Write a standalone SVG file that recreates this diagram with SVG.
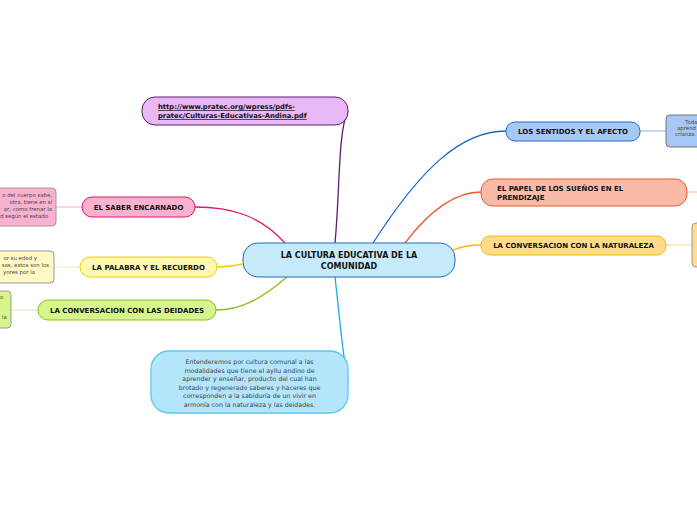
<svg xmlns="http://www.w3.org/2000/svg" width="697" height="520" viewBox="0 0 697 520">
<style>
text{font-family:"DejaVu Sans",Verdana,sans-serif;}
.t{font-size:7px;font-weight:bold;fill:#111;}
.s{font-size:5.4px;fill:#444;}
.d{font-size:6.3px;fill:#444;}
.c{fill:none;stroke-width:1.3;}
.th{fill:none;stroke-width:1;}
</style>
<rect width="697" height="520" fill="#fff"/>
<g id="connectors">
<path class="c" stroke="#5c1e6e" d="M335,243 C340,190 338,130 348,111"/>
<path class="c" stroke="#1d67c9" d="M373,243 C420,170 460,131 506,131"/>
<path class="c" stroke="#ec5a2c" d="M405,243 C430,210 455,192 481,192"/>
<path class="c" stroke="#f5b800" d="M453,250 C465,246 470,245 481,245"/>
<path class="c" stroke="#e2176b" d="M285,243 C260,215 230,207 195,207"/>
<path class="c" stroke="#e8d300" d="M243,264 C230,267 225,267 217,267"/>
<path class="c" stroke="#8dbf1c" d="M287,277 C260,300 240,310 216,310"/>
<path class="c" stroke="#1ea7e8" d="M335,277 C340,320 342,350 348,383"/>
<path class="th" stroke="#f7a6c8" d="M82,207 H56"/>
<path class="th" stroke="#f5ecb0" d="M80,267 H54"/>
<path class="th" stroke="#dbe9b8" d="M38,310 H11"/>
<path class="th" stroke="#8fb5ea" d="M640,131 H666"/>
<path class="th" stroke="#f5b8a5" d="M687,192 H697"/>
<path class="th" stroke="#ffd98a" d="M666,245 H692"/>
</g>
<g id="center"><rect x="243" y="243" width="212" height="34" rx="15" fill="#c7eafa" stroke="#1f6fbf"/>
<text class="t" x="349" y="258" text-anchor="middle" style="font-size:8px">LA CULTURA EDUCATIVA DE LA</text>
<text class="t" x="349" y="269" text-anchor="middle" style="font-size:8px">COMUNIDAD</text></g>
<g id="link"><rect x="142" y="97" width="206" height="28" rx="13" fill="#e9b8f7" stroke="#5c1e6e"/>
<text class="t" x="158" y="109" text-decoration="underline" style="font-size:6.8px">http://www.pratec.org/wpress/pdfs-</text>
<text class="t" x="158" y="118" text-decoration="underline" style="font-size:6.8px">pratec/Culturas-Educativas-Andina.pdf</text></g>
<g id="saber"><rect x="82" y="197" width="113" height="20" rx="10" fill="#f9b1d0" stroke="#e2176b"/>
<text class="t" x="138.5" y="209.5" text-anchor="middle">EL SABER ENCARNADO</text></g>
<g id="saber-note"><rect x="-10" y="188" width="66" height="38" rx="4" fill="#f9b1d0" stroke="#999"/>
<text class="s" x="52" y="197" text-anchor="end">o del cuerpo sabe,</text>
<text class="s" x="52" y="204" text-anchor="end">otra, tiene en sí</text>
<text class="s" x="52" y="211" text-anchor="end">ar, como frenar la</text>
<text class="s" x="48" y="218" text-anchor="end">d según el estado</text></g>
<g id="palabra"><rect x="80" y="257" width="137" height="20" rx="10" fill="#fff8b3" stroke="#e8d300"/>
<text class="t" x="148.5" y="269.5" text-anchor="middle">LA PALABRA Y EL RECUERDO</text></g>
<g id="palabra-note"><rect x="-10" y="251" width="64" height="32" rx="4" fill="#fff8c4" stroke="#999"/>
<text class="s" x="37" y="260" text-anchor="end">or su edad y</text>
<text class="s" x="49" y="267" text-anchor="end">sas, estos son los</text>
<text class="s" x="35" y="274" text-anchor="end">yores por la</text></g>
<g id="deidades"><rect x="38" y="300" width="178" height="20" rx="10" fill="#d6f58a" stroke="#8dbf1c"/>
<text class="t" x="127" y="312.5" text-anchor="middle">LA CONVERSACION CON LAS DEIDADES</text></g>
<g id="deidades-note"><rect x="-10" y="291" width="21" height="37" rx="4" fill="#d6f58a" stroke="#999"/>
<text class="s" x="0" y="299">o</text>
<text class="s" x="2" y="319">la</text></g>
<g id="desc"><rect x="151" y="351" width="197" height="62" rx="18" fill="#b3e5fb" stroke="#5bc7f2" stroke-width="1.3"/>
<g class="d" text-anchor="middle">
<text x="249.5" y="364">Entenderemos por cultura comunal a las</text>
<text x="249.5" y="372.5">modalidades que tiene el ayllu andino de</text>
<text x="249.5" y="381">aprender y enseñar, producto del cual han</text>
<text x="249.5" y="389.5">brotado y regenerado saberes y haceres que</text>
<text x="249.5" y="398">corresponden a la sabiduría de un vivir en</text>
<text x="249.5" y="406.5">armonía con la naturaleza y las deidades.</text></g></g>
<g id="sentidos"><rect x="506" y="122" width="134" height="19" rx="9" fill="#a7c8f5" stroke="#1f6cc9"/>
<text class="t" x="573" y="134" text-anchor="middle">LOS SENTIDOS Y EL AFECTO</text></g>
<g id="sentidos-note"><rect x="666" y="115" width="40" height="32" rx="4" fill="#a7c8f5" stroke="#777"/>
<text class="s" x="685" y="124">Toda</text>
<text class="s" x="677" y="130">aprend</text>
<text class="s" x="675" y="136">crianza</text></g>
<g id="suenos"><rect x="481" y="179" width="206" height="27" rx="12" fill="#f9bba8" stroke="#ec5a2c"/>
<text class="t" x="497" y="190.5">EL PAPEL DE LOS SUEÑOS EN EL</text>
<text class="t" x="497" y="200">PRENDIZAJE</text></g>
<g id="naturaleza"><rect x="481" y="236" width="185" height="19" rx="9" fill="#ffdc8a" stroke="#f5b800"/>
<text class="t" x="573.5" y="248" text-anchor="middle">LA CONVERSACION CON LA NATURALEZA</text></g>
<g id="naturaleza-note"><rect x="692" y="223" width="20" height="44" rx="4" fill="#ffdc8a" stroke="#999"/></g>
</svg>
